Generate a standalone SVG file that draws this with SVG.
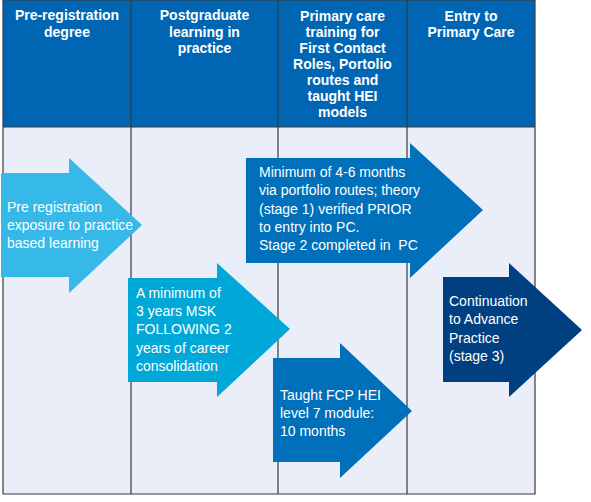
<svg xmlns="http://www.w3.org/2000/svg" width="591" height="502" viewBox="0 0 591 502">
<style>
.hdr{font-family:"Liberation Sans",Arial,sans-serif;font-size:14px;font-weight:bold;fill:#ffffff;text-anchor:middle}
.txt{font-family:"Liberation Sans",Arial,sans-serif;font-size:14px;fill:#ffffff}
.grid{stroke:#3a3a3a;stroke-width:1.2;fill:none}
</style>
<rect width="591" height="502" fill="#ffffff"/>
<g id="table">
<rect x="3" y="0" width="532" height="127" fill="#0066B3"/>
<rect x="3" y="127" width="532" height="367" fill="#EAEEF9"/>
<path class="grid" d="M3 0V494H535V0M3 0H535M3 127H535M131 0V494M278 0V494M407 0V494"/>
</g>
<g id="headers">
<text class="hdr" x="67" y="20">Pre-registration</text>
<text class="hdr" x="67" y="37">degree</text>
<text class="hdr" x="204.5" y="20">Postgraduate</text>
<text class="hdr" x="204.5" y="37">learning in</text>
<text class="hdr" x="204.5" y="53">practice</text>
<text class="hdr" x="342.5" y="21">Primary care</text>
<text class="hdr" x="342.5" y="37">training for</text>
<text class="hdr" x="342.5" y="53">First Contact</text>
<text class="hdr" x="342.5" y="69">Roles, Portolio</text>
<text class="hdr" x="342.5" y="85">routes and</text>
<text class="hdr" x="342.5" y="101">taught HEI</text>
<text class="hdr" x="342.5" y="117">models</text>
<text class="hdr" x="471" y="21">Entry to</text>
<text class="hdr" x="471" y="37">Primary Care</text>
</g>
<g id="arrow-preregistration">
<polygon points="1,173 69,173 69,158 142,225 69,293 69,277 1,277" fill="#36B9E9"/>
<text class="txt" x="7" y="212">Pre registration</text>
<text class="txt" x="7" y="230">exposure to practice</text>
<text class="txt" x="7" y="248">based learning</text>
</g>
<g id="arrow-msk">
<polygon points="128,278 217,278 217,263 290,329 217,397 217,382 128,382" fill="#00A8D8"/>
<text class="txt" x="136" y="298">A minimum of</text>
<text class="txt" x="136" y="316">3 years MSK</text>
<text class="txt" x="136" y="334">FOLLOWING 2</text>
<text class="txt" x="136" y="352.5">years of career</text>
<text class="txt" x="136" y="371">consolidation</text>
</g>
<g id="arrow-portfolio">
<polygon points="246,158 410,158 410,143 483,210 410,278 410,263 246,263" fill="#0070BA"/>
<text class="txt" x="259" y="177">Minimum of 4-6 months</text>
<text class="txt" x="259" y="195">via portfolio routes; theory</text>
<text class="txt" x="259" y="213.5">(stage 1) verified PRIOR</text>
<text class="txt" x="259" y="232">to entry into PC.</text>
<text class="txt" x="259" y="250" xml:space="preserve">Stage 2 completed in  PC</text>
</g>
<g id="arrow-taught">
<polygon points="273,358 340,358 340,343 412,411 340,478 340,462 273,462" fill="#0070BA"/>
<text class="txt" x="280" y="400">Taught FCP HEI</text>
<text class="txt" x="280" y="418">level 7 module:</text>
<text class="txt" x="280" y="436">10 months</text>
</g>
<g id="arrow-advance">
<polygon points="443,277 509,277 509,263 582,330 509,397 509,382 443,382" fill="#003F80"/>
<text class="txt" x="449" y="306">Continuation</text>
<text class="txt" x="449" y="324">to Advance</text>
<text class="txt" x="449" y="342.5">Practice</text>
<text class="txt" x="449" y="361">(stage 3)</text>
</g>
</svg>
